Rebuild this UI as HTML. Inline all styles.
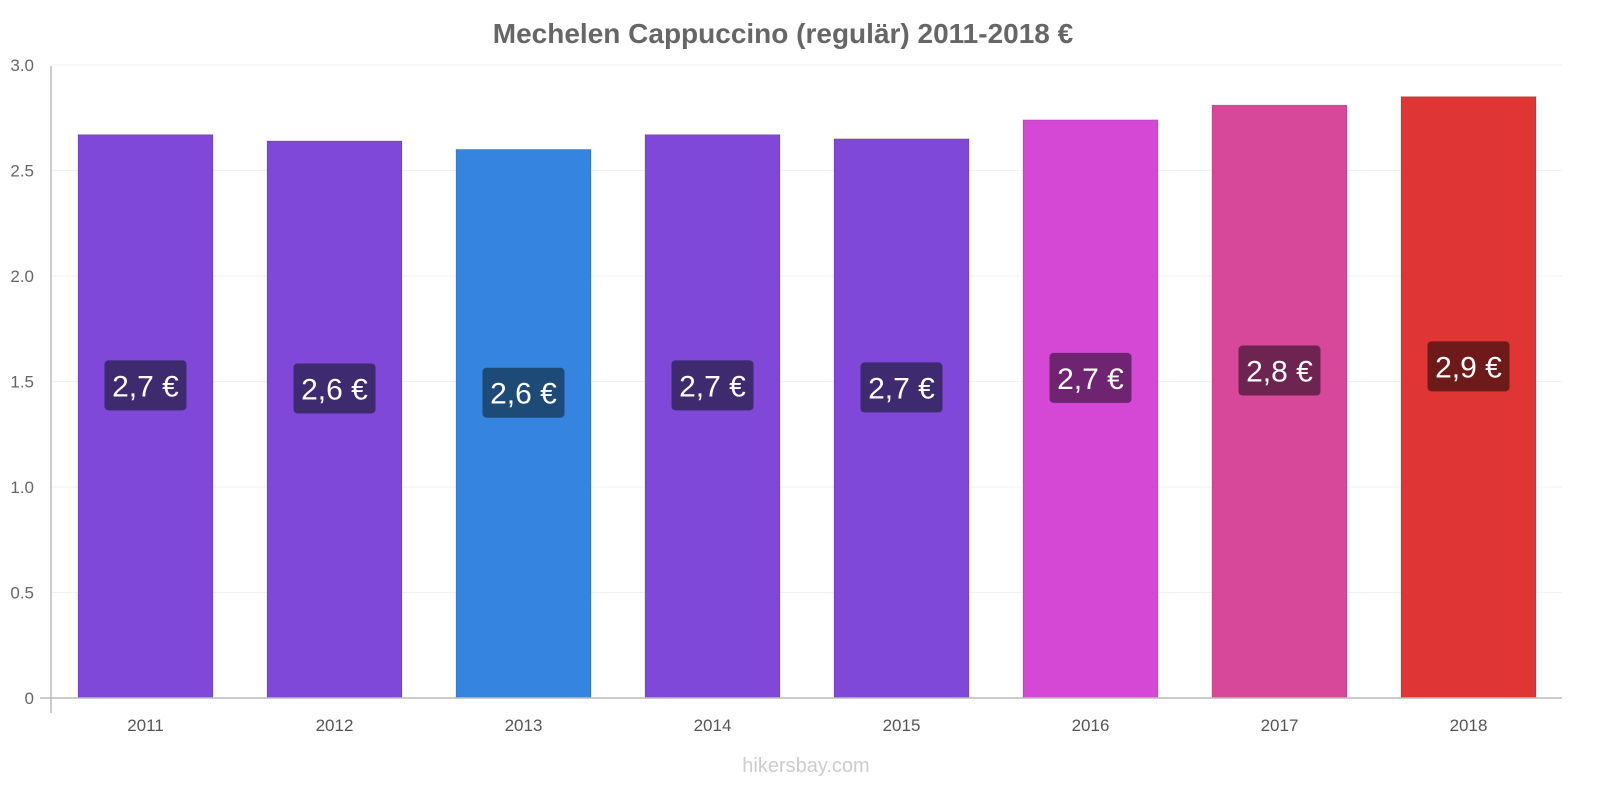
<!DOCTYPE html>
<html><head><meta charset="utf-8"><style>
html,body{margin:0;padding:0;background:#fff;font-family:"Liberation Sans",sans-serif;overflow:hidden;width:1600px;height:800px}
svg{display:block}
svg text{font-family:"Liberation Sans",sans-serif}
</style></head><body>
<svg id="chart" width="1600" height="800" xmlns="http://www.w3.org/2000/svg">
<text x="783" y="43" text-anchor="middle" font-size="28" font-weight="bold" fill="#666">Mechelen Cappuccino (regulär) 2011-2018 €</text>
<g id="grid"></g><g id="bars"></g>
<line x1="51" y1="66" x2="51" y2="713" stroke="#bbb" stroke-width="1.5"/>
<line x1="40" y1="698" x2="1562" y2="698" stroke="#bbb" stroke-width="1.5"/>
<text x="806" y="772" text-anchor="middle" font-size="20" fill="#ccc">hikersbay.com</text>
</svg>
<script>
const categories=["2011","2012","2013","2014","2015","2016","2017","2018"];
const values=[2.67,2.64,2.60,2.67,2.65,2.74,2.81,2.85];
const valueLabels=["2,7 €","2,6 €","2,6 €","2,7 €","2,7 €","2,7 €","2,8 €","2,9 €"];
const yTicks=[0,0.5,1,1.5,2,2.5,3];
const yTickLabels=["0","0.5","1.0","1.5","2.0","2.5","3.0"];
const colors=["#8048d8","#8048d8","#3584e0","#8048d8","#8048d8","#d548d5","#d8489a","#e03535"];
const labelBg=["#3e2a6e","#3e2a6e","#1e4a78","#3e2a6e","#3e2a6e","#6e2470","#6e2450","#6e1a1a"];
const NS="http://www.w3.org/2000/svg";
const y=v=>698-v*211;
const band=189, x0=51;
const x=i=>x0+i*band;
function mk(t,a,p){const e=document.createElementNS(NS,t);for(const k in a)e.setAttribute(k,a[k]);p.appendChild(e);return e;}
const g=document.getElementById('grid'), b=document.getElementById('bars');
yTicks.forEach((v,i)=>{
 if(v>0){const l=mk('line',{x1:51,x2:1562,y1:y(v),y2:y(v),stroke:'#f2f2f2'},g);
 
 }
 const t=mk('text',{x:34,y:y(v)+6,'text-anchor':'end','font-size':17,fill:'#666'},g);
 t.textContent=yTickLabels[i];
 
 
});
categories.forEach((c,i)=>{
 const top=y(values[i]);
 const r=mk('rect',{x:x(i)+27,y:top,width:135,height:698-top,fill:colors[i],stroke:'rgba(0,0,0,0.15)'},b);
 
 
 const cx=x(i)+94.5, cy=(top+698)/2-31;
 const lb=mk('rect',{x:cx-41,y:cy-25,width:82,height:50,rx:4,fill:labelBg[i]},b);
 
 
 const lt=mk('text',{x:cx,y:cy+11,'text-anchor':'middle','font-size':30,fill:'#fff'},b);
 lt.textContent=valueLabels[i];
 
 
 const xt=mk('text',{x:cx,y:731,'text-anchor':'middle','font-size':17,fill:'#555'},b);
 xt.textContent=c;
 
 
});
</script>
</body></html>
